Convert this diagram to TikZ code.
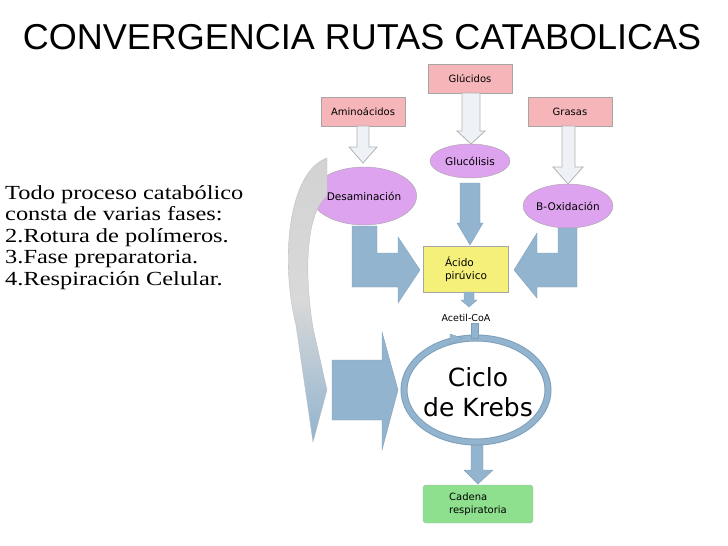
\documentclass[tikz,border=0pt]{standalone}
\usepackage{fontspec}
\setmainfont{Liberation Serif}
\newfontfamily\titlefont{Liberation Sans}
\newfontfamily\labelfont{DejaVu Sans}
\newfontfamily\phasefont[FakeStretch=1.22]{Liberation Serif}
\usetikzlibrary{positioning,shapes.geometric,calc}
\definecolor{boxpink}{HTML}{F5B5B9}
\definecolor{blobviolet}{HTML}{DDA3EE}
\definecolor{pyryellow}{HTML}{F5F07A}
\definecolor{chaingreen}{HTML}{8EE08E}
\definecolor{flowblue}{HTML}{92B4CF}
\definecolor{flowedge}{HTML}{7E9FBA}
\definecolor{hollowfill}{HTML}{EEF2F6}
\tikzset{
  source/.style={draw=gray!70,fill=boxpink,minimum width=84pt,minimum height=29pt,font=\labelfont\fontsize{10}{12}\selectfont},
  blob/.style={ellipse,draw=gray!70,fill=blobviolet,inner sep=0pt,font=\labelfont\fontsize{10.5}{12}\selectfont},
  hollow/.style={draw=gray!60,fill=hollowfill,line width=0.8pt},
  bluearrow/.style={fill=flowblue,draw=flowedge,line width=0.4pt},
}
\begin{document}
\begin{tikzpicture}[x=1pt,y=-1pt]
\useasboundingbox (0,0) rectangle (728,546);
\node[font=\titlefont\fontsize{36}{40}\selectfont] (title) at (362,37) {CONVERGENCIA RUTAS CATABOLICAS};
\node[anchor=north west,align=left,font=\phasefont\fontsize{20}{21.5}\selectfont,inner sep=0pt] (phases) at (5,185)
  {Todo proceso catabólico\\consta de varias fases:\\2.Rotura de polímeros.\\3.Fase preparatoria.\\4.Respiración Celular.};
% sources and steps
\node[source] (gluc) at (470,79) {Glúcidos};
\node[source] (amino) at (363,112) {Aminoácidos};
\node[source] (fats) at (570,112) {Grasas};
\node[blob,minimum width=80pt,minimum height=34pt] (glyco) at (470,161) {Glucólisis};
\node[blob,minimum width=100pt,minimum height=58pt] (desam) at (364,196) {Desaminación};
\node[blob,minimum width=90pt,minimum height=44pt] (boxid) at (568,206) {B-Oxidación};
\node[draw=gray!70,fill=pyryellow,minimum width=85pt,minimum height=46pt,align=left,font=\labelfont\fontsize{10.5}{13}\selectfont] (pyr) at (466,269) {Ácido\\pirúvico};
\node[font=\labelfont\fontsize{9.5}{11}\selectfont] (acetyl) at (466,318) {Acetil-CoA};
\node[draw=gray!60,fill=chaingreen,rounded corners=3pt,minimum width=110pt,minimum height=38pt,align=left,font=\labelfont\fontsize{10}{12.5}\selectfont] (chain) at (478,504) {Cadena\\respiratoria};
% hollow arrows
\draw[hollow] (357,126) -- (369,126) -- (369,147) -- (377,147) -- (363,163) -- (349,147) -- (357,147) -- cycle;
\draw[hollow] (462,93) -- (480,93) -- (480,131) -- (485,131) -- (471,144) -- (457,131) -- (462,131) -- cycle;
\draw[hollow] (562,126) -- (575,126) -- (575,167) -- (583,167) -- (568,184) -- (553,167) -- (562,167) -- cycle;
% blue arrows
\draw[bluearrow] (460,183) -- (480,183) -- (480,223) -- (483,223) -- (470,245) -- (457,223) -- (460,223) -- cycle;
\draw[bluearrow] (352,226) -- (377,226) -- (377,253) -- (398,253) -- (398,237) -- (420,270) -- (398,303) -- (398,287) -- (352,287) -- cycle;
\draw[bluearrow] (577,228) -- (558,228) -- (558,253) -- (537,253) -- (537,233) -- (514,270) -- (537,298) -- (537,287) -- (577,287) -- cycle;
\draw[bluearrow] (464,292) -- (474,292) -- (474,300) -- (477,300) -- (469,307) -- (461,300) -- (464,300) -- cycle;
\draw[bluearrow] (332,360) -- (382,360) -- (382,332) -- (398,390) -- (382,450) -- (382,420) -- (332,420) -- cycle;
\draw[bluearrow] (471,440) -- (483,440) -- (483,470) -- (493,470) -- (478,484) -- (464,470) -- (471,470) -- cycle;
% curved return arrow
\path[draw=gray!50,top color=gray!35,bottom color=flowblue,middle color=gray!30]
  (327,158) .. controls (288,172) and (280,260) .. (296,325) -- (313,442) -- (327,390)
  -- (313,328) .. controls (305,280) and (304,215) .. (327,196) -- cycle;
% Krebs cycle
\draw[flowedge,line width=7pt] (476,390) ellipse [x radius=72pt,y radius=52pt];
\draw[flowblue,line width=5pt] (476,390) ellipse [x radius=72pt,y radius=52pt];
\draw[bluearrow] (450,334) -- (462,338) -- (450,344) -- cycle;
\draw[bluearrow] (471,323) -- (478,323) -- (478,338) -- (471,338) -- cycle;
\node[align=center,font=\labelfont\fontsize{25}{30}\selectfont] (krebs) at (478,392) {Ciclo\\de Krebs};
\end{tikzpicture}
\end{document}
